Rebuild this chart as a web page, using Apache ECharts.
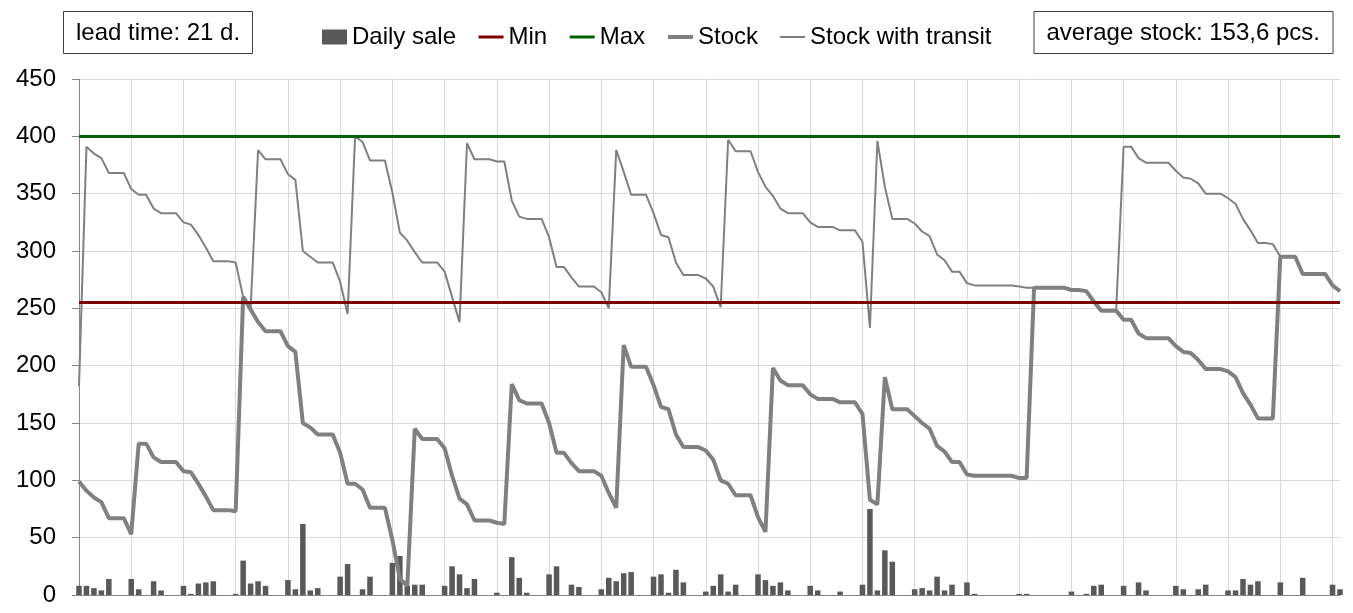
<!DOCTYPE html>
<html>
<head>
<meta charset="utf-8">
<script src="https://cdn.jsdelivr.net/npm/echarts@6/dist/echarts.min.js"></script>
<style>
  html, body { margin: 0; padding: 0; background: #fff; }
  #chart { width: 1353px; height: 613px; }
</style>
</head>
<body>
<div id="chart"></div>
<script>
// daily sales, pcs per day (170 days)
const SALES = [
  8, 8, 6, 4, 14, 0, 0, 14, 5, 0,
  12, 4, 0, 0, 8, 1, 10, 11, 12, 0,
  0, 1, 30, 10, 12, 8, 0, 0, 13, 5,
  62, 4, 6, 0, 0, 16, 27, 0, 5, 16,
  0, 0, 28, 34, 8, 9, 9, 0, 0, 8,
  25, 18, 6, 14, 0, 0, 2, 0, 33, 15,
  2, 0, 0, 18, 25, 0, 9, 7, 0, 0,
  5, 15, 12, 19, 20, 0, 0, 16, 18, 2,
  22, 11, 0, 0, 3, 8, 18, 3, 9, 0,
  0, 18, 13, 8, 11, 4, 0, 0, 8, 4,
  0, 0, 3, 0, 0, 9, 75, 4, 39, 29,
  0, 0, 5, 6, 4, 16, 4, 9, 0, 11,
  1, 0, 0, 0, 0, 0, 1, 1, 0, 0,
  0, 0, 0, 3, 0, 1, 8, 9, 0, 0,
  8, 0, 11, 4, 0, 0, 0, 8, 5, 0,
  5, 9, 0, 0, 4, 4, 14, 9, 12, 0,
  0, 11, 0, 0, 15, 0, 0, 0, 9, 5
];

// stock on hand
const STOCK = [
  99, 91, 85, 81, 67, 67, 67, 53, 132, 132,
  120, 116, 116, 116, 108, 107, 97, 86, 74, 74,
  74, 73, 260, 249, 238, 230, 230, 230, 217, 212,
  150, 146, 140, 140, 140, 124, 97, 97, 92, 76,
  76, 76, 48, 14, 8, 145, 136, 136, 136, 128,
  104, 84, 79, 65, 65, 65, 63, 62, 184, 170,
  167, 167, 167, 150, 124, 124, 115, 108, 108, 108,
  104, 89, 76, 218, 199, 199, 199, 183, 164, 162,
  140, 129, 129, 129, 126, 118, 100, 97, 87, 87,
  87, 68, 55, 198, 187, 183, 183, 183, 175, 171,
  171, 171, 168, 168, 168, 158, 83, 79, 190, 162,
  162, 162, 156, 150, 145, 130, 125, 116, 116, 105,
  104, 104, 104, 104, 104, 104, 102, 102, 268, 268,
  268, 268, 268, 266, 266, 265, 256, 248, 248, 248,
  240, 240, 228, 224, 224, 224, 224, 217, 212, 211,
  205, 197, 197, 197, 195, 190, 176, 166, 154, 154,
  154, 295, 295, 295, 280, 280, 280, 280, 270, 265
];

// stock plus open orders in transit
const STOCK_TRANSIT = [
  182, 391, 385, 381, 368, 368, 368, 354, 349, 349,
  337, 333, 333, 333, 325, 323, 314, 303, 291, 291,
  291, 290, 260, 249, 388, 380, 380, 380, 367, 362,
  300, 295, 290, 290, 290, 273, 245, 400, 395, 379,
  379, 379, 351, 316, 309, 299, 290, 290, 290, 282,
  260, 238, 394, 380, 380, 380, 378, 378, 344, 330,
  328, 328, 328, 312, 286, 286, 277, 269, 269, 269,
  264, 250, 388, 369, 349, 349, 349, 333, 314, 312,
  290, 279, 279, 279, 276, 269, 251, 397, 387, 387,
  387, 369, 356, 348, 337, 333, 333, 333, 325, 321,
  321, 321, 318, 318, 318, 308, 233, 396, 356, 328,
  328, 328, 324, 317, 313, 297, 292, 282, 282, 272,
  270, 270, 270, 270, 270, 270, 269, 268, 268, 268,
  268, 268, 268, 266, 266, 265, 256, 248, 248, 248,
  391, 391, 381, 377, 377, 377, 377, 370, 364, 363,
  359, 350, 350, 350, 346, 341, 328, 318, 307, 307,
  306, 295, 295, 295, 280, 280, 280, 280, 270, 265
];

const DAYS = SALES.map((_, i) => i + 1);

const MIN_LEVEL = 255;
const MAX_LEVEL = 400;
const LEAD_TIME_TEXT = "lead time: 21 d.";
const AVG_STOCK_TEXT = "average stock: 153,6 pcs.";

const FONT = "'Liberation Sans', Arial, sans-serif";
const COLORS = {
  bar: "#595959",
  min: "#800000",
  max: "#006100",
  stock: "#808080",
  grid: "#d9d9d9",
  axis: "#868686",
  text: "#000000",
};

const chart = echarts.init(document.getElementById("chart"), null, { renderer: "canvas" });

const levelLine = (name, value, color) => ({
  name,
  type: "line",
  data: [],
  symbol: "none",
  lineStyle: { color, width: 3 },
  itemStyle: { color },
  markLine: {
    silent: true,
    symbol: "none",
    label: { show: false },
    animation: false,
    lineStyle: { color, width: 3, type: "solid" },
    data: [{ yAxis: value }],
  },
});

// line entries in the legend: just the stroke, no marker
const lineEntry = (name, color, width) => ({
  name,
  itemStyle: { opacity: 0 },
  lineStyle: { color, width },
});

const boxTitle = (text, pos) => ({
  text,
  ...pos,
  top: 11,
  padding: [10, 13, 9, 13],
  borderColor: "#404040",
  borderWidth: 1,
  textStyle: { fontFamily: FONT, fontSize: 24, fontWeight: "normal", color: COLORS.text },
});

chart.setOption({
  animation: false,
  textStyle: { fontFamily: FONT },
  title: [
    boxTitle(LEAD_TIME_TEXT, { left: 63 }),
    boxTitle(AVG_STOCK_TEXT, { right: 20 }),
  ],
  legend: {
    left: 317,
    top: 20,
    itemWidth: 25,
    itemHeight: 15,
    itemGap: 21,
    textStyle: { fontFamily: FONT, fontSize: 24, color: COLORS.text },
    data: [
      { name: "Daily sale", icon: "rect" },
      lineEntry("Min", COLORS.min, 3),
      lineEntry("Max", COLORS.max, 3),
      lineEntry("Stock", COLORS.stock, 4),
      lineEntry("Stock with transit", COLORS.stock, 2),
    ],
  },
  grid: { left: 79, right: 13, top: 79, bottom: 18 },
  xAxis: {
    type: "category",
    data: DAYS,
    boundaryGap: false,
    axisLine: { show: true, lineStyle: { color: COLORS.axis, width: 1 } },
    axisTick: { show: false },
    axisLabel: { show: false },
    splitLine: { show: true, interval: 6, lineStyle: { color: COLORS.grid, width: 1 } },
  },
  yAxis: {
    type: "value",
    min: 0,
    max: 450,
    interval: 50,
    axisLine: { show: true, lineStyle: { color: COLORS.axis, width: 1 } },
    axisTick: { show: true, length: 7, lineStyle: { color: COLORS.axis } },
    axisLabel: { color: COLORS.text, fontSize: 24, fontFamily: FONT, margin: 23 },
    splitLine: { show: true, lineStyle: { color: COLORS.grid, width: 1 } },
  },
  series: [
    {
      name: "Daily sale",
      type: "bar",
      data: SALES,
      barWidth: "74%",
      itemStyle: { color: COLORS.bar },
    },
    levelLine("Min", MIN_LEVEL, COLORS.min),
    levelLine("Max", MAX_LEVEL, COLORS.max),
    {
      name: "Stock",
      type: "line",
      data: STOCK,
      symbol: "none",
      lineStyle: { color: COLORS.stock, width: 4 },
      itemStyle: { color: COLORS.stock },
    },
    {
      name: "Stock with transit",
      type: "line",
      data: STOCK_TRANSIT,
      symbol: "none",
      lineStyle: { color: COLORS.stock, width: 2 },
      itemStyle: { color: COLORS.stock },
    },
  ],
});

window.addEventListener("resize", () => chart.resize());
</script>
</body>
</html>
